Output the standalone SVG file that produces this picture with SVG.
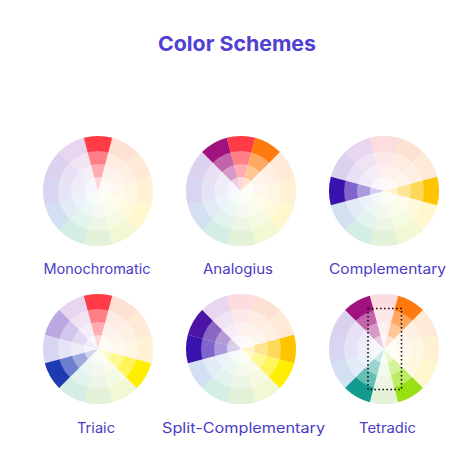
<svg xmlns="http://www.w3.org/2000/svg" xmlns:xlink="http://www.w3.org/1999/xlink" width="474" height="474" viewBox="0 0 474 474">
<style>
.title{font-family:Inter,"Noto Sans","Liberation Sans",sans-serif;font-weight:700;font-size:20.5px;fill:#5140D4;text-anchor:middle}
.lbl{font-family:Inter,"Noto Sans","Liberation Sans",sans-serif;font-weight:400;font-size:14px;fill:#4A3BC4;text-anchor:middle}
.ring{fill:#ffffff}
.dots{fill:none;stroke:#111;stroke-width:1.6;stroke-dasharray:1.6 2.4}
</style>
<defs>
<path id="s0" d="M0 0 L53.126 -14.235 A55 55 0 0 1 53.126 14.235 Z"/>
<path id="s30" d="M0 0 L53.126 14.235 A55 55 0 0 1 38.891 38.891 Z"/>
<path id="s60" d="M0 0 L38.891 38.891 A55 55 0 0 1 14.235 53.126 Z"/>
<path id="s90" d="M0 0 L14.235 53.126 A55 55 0 0 1 -14.235 53.126 Z"/>
<path id="s120" d="M0 0 L-14.235 53.126 A55 55 0 0 1 -38.891 38.891 Z"/>
<path id="s150" d="M0 0 L-38.891 38.891 A55 55 0 0 1 -53.126 14.235 Z"/>
<path id="s180" d="M0 0 L-53.126 14.235 A55 55 0 0 1 -53.126 -14.235 Z"/>
<path id="s210" d="M0 0 L-53.126 -14.235 A55 55 0 0 1 -38.891 -38.891 Z"/>
<path id="s240" d="M0 0 L-38.891 -38.891 A55 55 0 0 1 -14.235 -53.126 Z"/>
<path id="s270" d="M0 0 L-14.235 -53.126 A55 55 0 0 1 14.235 -53.126 Z"/>
<path id="s300" d="M0 0 L14.235 -53.126 A55 55 0 0 1 38.891 -38.891 Z"/>
<path id="s330" d="M0 0 L38.891 -38.891 A55 55 0 0 1 53.126 -14.235 Z"/>
<g id="base">
<circle r="55" fill="#F2EEF2"/>
<use href="#s0" fill="#FFF2D4"/>
<use href="#s30" fill="#FFF8CE"/>
<use href="#s60" fill="#F2F8D4"/>
<use href="#s90" fill="#E3F1D8"/>
<use href="#s120" fill="#D4EDE5"/>
<use href="#s150" fill="#D3E0F1"/>
<use href="#s180" fill="#D7D5F2"/>
<use href="#s210" fill="#DCD2F0"/>
<use href="#s240" fill="#E8D6EE"/>
<use href="#s270" fill="#FCDCDF"/>
<use href="#s300" fill="#FDE1D3"/>
<use href="#s330" fill="#FEEAD6"/>
</g>
<g id="rings">
<circle class="ring" r="40" opacity="0.35"/>
<circle class="ring" r="27" opacity="0.35"/>
<circle class="ring" r="14" opacity="0.5"/>
</g>
</defs>
<rect width="474" height="474" fill="#ffffff"/>
<text class="title" x="237" y="51" textLength="158" lengthAdjust="spacingAndGlyphs">Color Schemes</text>

<g id="monochromatic" transform="translate(98,191)">
<use href="#base"/>
<use href="#s270" fill="#FF3B45"/>
<use href="#rings"/>
</g>
<g id="analogous" transform="translate(241,191)">
<use href="#base"/>
<use href="#s240" fill="#A0127E"/>
<use href="#s270" fill="#FF3B45"/>
<use href="#s300" fill="#FF7A0E"/>
<use href="#rings"/>
</g>
<g id="complementary" transform="translate(384,191)">
<use href="#base"/>
<use href="#s180" fill="#3A12B0"/>
<use href="#s0" fill="#FFC400"/>
<use href="#rings"/>
</g>
<g id="triadic" transform="translate(98,349)">
<use href="#base"/>
<use href="#s210" fill="#BBA8E2"/>
<use href="#s270" fill="#FF3B45"/>
<use href="#s30" fill="#FFEE00"/>
<use href="#s150" fill="#1E3AB2"/>
<use href="#rings"/>
</g>
<g id="split-complementary" transform="translate(241,349)">
<use href="#base"/>
<use href="#s180" fill="#3A12B0"/>
<use href="#s210" fill="#4C14A4"/>
<use href="#s0" fill="#FFC400"/>
<use href="#s30" fill="#FFEE00"/>
<use href="#rings"/>
</g>
<g id="tetradic" transform="translate(384,349)">
<use href="#base"/>
<use href="#s240" fill="#A0127E"/>
<use href="#s300" fill="#FF7A0E"/>
<use href="#s60" fill="#98E012"/>
<use href="#s120" fill="#139A8E"/>
<use href="#rings"/>
</g>

<g id="connectors">
<rect class="dots" x="368" y="308.5" width="33.5" height="81"/>
</g>

<g id="labels">
<text class="lbl" x="97" y="274" textLength="107" lengthAdjust="spacingAndGlyphs">Monochromatic</text>
<text class="lbl" x="238" y="274" textLength="70" lengthAdjust="spacingAndGlyphs">Analogius</text>
<text class="lbl" x="387.5" y="274" textLength="117" lengthAdjust="spacingAndGlyphs">Complementary</text>
<text class="lbl" x="96" y="433" textLength="38" lengthAdjust="spacingAndGlyphs">Triaic</text>
<text class="lbl" x="243.5" y="433" textLength="163" lengthAdjust="spacingAndGlyphs">Split-Complementary</text>
<text class="lbl" x="387.5" y="433" textLength="57" lengthAdjust="spacingAndGlyphs">Tetradic</text>
</g>
</svg>
